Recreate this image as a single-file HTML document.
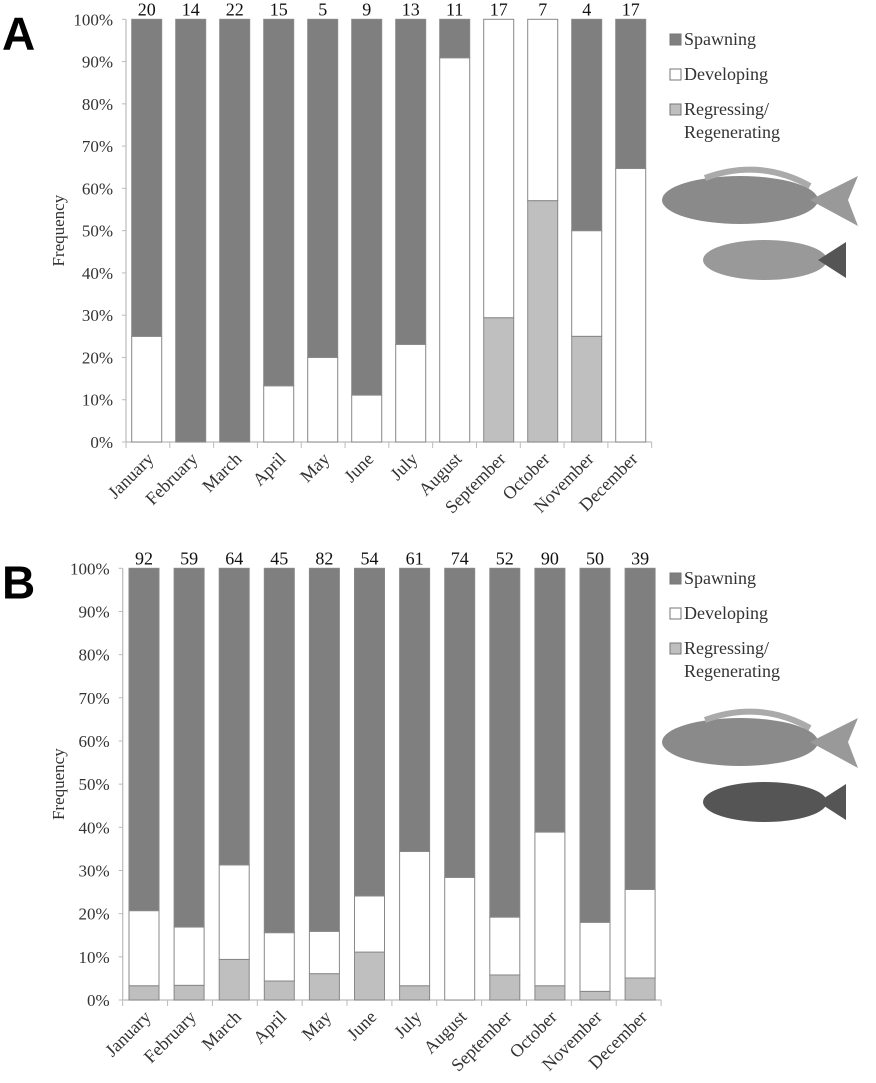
<!DOCTYPE html>
<html><head><meta charset="utf-8"><style>
body{margin:0;background:#fff;}
svg{display:block;font-family:"Liberation Serif",serif;}
</style></head><body>
<svg id="c" width="876" height="1083" viewBox="0 0 876 1083"></svg>
<script>
const months=["January","February","March","April","May","June","July","August","September","October","November","December"];
const countsA=[20,14,22,15,5,9,13,11,17,7,4,17];
const regA=[0,0,0,0,0,0,0,0,29.4,57.1,25,0];
const devA=[25,0,0,13.3,20,11.1,23.1,90.9,70.6,42.9,25,64.7];
const countsB=[92,59,64,45,82,54,61,74,52,90,50,39];
const regB=[3.3,3.4,9.4,4.4,6.1,11.1,3.3,0,5.8,3.3,2,5.1];
const devB=[17.4,13.5,21.9,11.2,9.8,13,31.1,28.4,13.4,35.6,16,20.5];
const ticks=[0,10,20,30,40,50,60,70,80,90,100];
const NS="http://www.w3.org/2000/svg";
const svg=document.getElementById('c');
function mk(tag,attrs,parent,text){const e=document.createElementNS(NS,tag);for(const k in attrs)e.setAttribute(k,attrs[k]);if(text!==undefined)e.textContent=text;(parent||svg).appendChild(e);return e;}
function panel(letter,y0,y100,ax,x0,step,counts,reg,dev,legY,fishY){
  const g=mk('g',{});
  
  
  const yS=v=>y0-(y0-y100)*v/100;
  const bw=30, axEnd=x0+step*12-step+bw+6;
  const L=mk('text',{x:2,y:y100+30,'font-family':'"Liberation Sans",sans-serif','font-weight':'bold','font-size':46},g,letter);
  
  const ya=mk('line',{x1:ax,y1:y100,x2:ax,y2:y0,stroke:'#bbb','stroke-width':1.2},g);
  
  const xa=mk('line',{x1:ax,y1:y0,x2:axEnd,y2:y0,stroke:'#bbb','stroke-width':1.2},g);
  
  ticks.forEach(t=>{const y=yS(t);
    mk('line',{x1:ax-4,y1:y,x2:ax,y2:y,stroke:'#bbb'},g);
    const tl=mk('text',{x:ax-13,y:y+6,'text-anchor':'end','font-size':17,fill:'#333'},g,t+'%');
    });
  const yt=mk('text',{x:0,y:0,'font-size':17,fill:'#333','text-anchor':'middle',transform:`translate(64,${(y0+y100)/2}) rotate(-90)`},g,'Frequency');
  
  for(let i=0;i<=12;i++){const x=ax+(axEnd-ax)*i/12;mk('line',{x1:x,y1:y0,x2:x,y2:y0+6,stroke:'#bbb'},g);}
  months.forEach((m,i)=>{
    const x=x0+i*step;
    const r=reg[i],d=dev[i];
    const segs=[[0,r,'#bfbfbf','regressing'],[r,r+d,'#ffffff','developing'],[r+d,100,'#7f7f7f','spawning']];
    segs.forEach(sg=>{if(sg[1]-sg[0]<=0.01)return;
      const rc=mk('rect',{x:x,y:yS(sg[1]),width:bw,height:yS(sg[0])-yS(sg[1]),fill:sg[2],stroke:'#888','stroke-width':1},g);
      });
    const ct=mk('text',{x:x+bw/2,y:y100-4,'text-anchor':'middle','font-size':18,fill:'#111'},g,counts[i]);
    
    const ml=mk('text',{x:0,y:0,'text-anchor':'end','font-size':18,fill:'#333',transform:`translate(${x+bw/2+8},${y0+18}) rotate(-45)`},g,m);
    
  });
  const leg=[['Spawning','#7f7f7f'],['Developing','#fff'],['Regressing/','#bfbfbf']];
  leg.forEach((l,i)=>{const y=legY+i*35;
    const sq=mk('rect',{x:670,y:y-11,width:11,height:11,fill:l[1],stroke:'#777'},g);
    
    const lt=mk('text',{x:684,y:y,'font-size':18,fill:'#333'},g,l[0]);
    });
  const lt2=mk('text',{x:684,y:legY+93,'font-size':18,fill:'#333'},g,'Regenerating');
  
  const f=mk('g',{},g);
  mk('ellipse',{cx:740,cy:fishY,rx:78,ry:24,fill:'#8a8a8a'},f);
  mk('path',{d:`M810 ${fishY} L858 ${fishY-24} L848 ${fishY} L858 ${fishY+26} Z`,fill:'#999'},f);
  mk('path',{d:`M705 ${fishY-22} Q760 ${fishY-42} 810 ${fishY-14}`,fill:'none',stroke:'#aaa','stroke-width':6},f);
  mk('ellipse',{cx:765,cy:fishY+60,rx:62,ry:20,fill:letter==='A'?'#999':'#555'},f);
  mk('path',{d:`M818 ${fishY+60} L846 ${fishY+42} L846 ${fishY+78} Z`,fill:'#555'},f);
}
panel('A',442,19.3,126,131.7,44,countsA,regA,devA,45,200);
panel('B',1000,568.3,122.7,129,45.1,countsB,regB,devB,584,742);
</script>
</body></html>
